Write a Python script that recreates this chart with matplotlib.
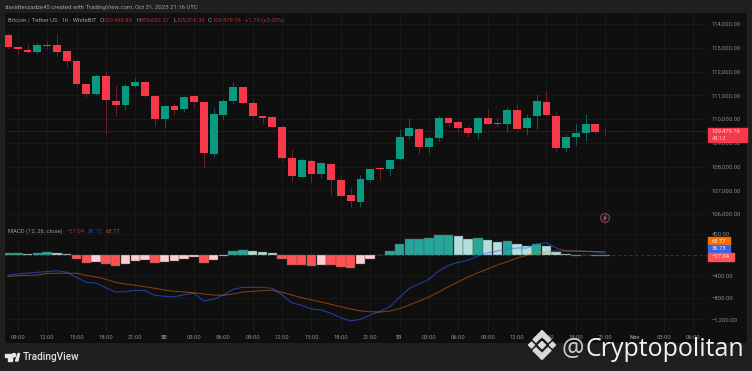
import matplotlib
matplotlib.use("Agg")
import matplotlib.pyplot as plt
from matplotlib.patches import Circle, Polygon, Rectangle

plt.rcParams["font.family"] = ["Roboto", "DejaVu Sans"]

# hourly candles, Oct 29 08:00 to Oct 31 21:00
opens = [113524, 113031, 112918, 112808, 113115, 113103, 112850, 112442, 111486, 111040,
         111798, 110770, 110602, 111377, 111570, 110981, 109987, 110535, 110421, 110956,
         110728, 108539, 110181, 110758, 111335, 110674, 110139, 110097, 109676, 108358,
         107571, 108244, 107697, 108118, 107432, 106800, 106518, 107445, 107937, 107882,
         108303, 109272, 109592, 108809, 109200, 110029, 109861, 109608, 109423, 110029,
         109832, 109790, 110366, 109608, 110114, 110728, 110139, 108779, 109255, 109398,
         109777, 109500]
closes = [113031, 112934, 112821, 113103, 113086, 112833, 112442, 111486, 111065, 111823,
          110800, 110577, 111377, 111558, 110968, 110000, 110547, 110392, 110939, 110716,
          108556, 110210, 110758, 111335, 110661, 110139, 110042, 109676, 108345, 107588,
          108261, 107672, 108135, 107445, 106771, 106535, 107487, 107882, 107882, 108287,
          109242, 109608, 108809, 109200, 110055, 109844, 109608, 109411, 110042, 109802,
          109777, 110379, 109592, 110029, 110745, 110168, 108766, 109242, 109411, 109777,
          109440, 109480]
highs = [113600, 113061, 113158, 113212, 113296, 113579, 112875, 112471, 111503, 111882,
         111979, 111419, 111503, 111739, 111587, 111023, 110589, 110686, 110968, 110968,
         110745, 110450, 110829, 111558, 111347, 110800, 110181, 110126, 109735, 108724,
         108345, 108329, 108190, 108135, 107546, 107137, 107630, 107895, 107937, 108316,
         109566, 110029, 109651, 109284, 110168, 110042, 109916, 109747, 110072, 110421,
         110097, 110505, 110644, 110210, 111053, 111166, 110295, 109356, 109777, 110210,
         109790, 109602]
lows = [112947, 112737, 112766, 112724, 112934, 112665, 112202, 111377, 110926, 110998,
        109368, 110126, 110379, 111335, 110897, 109705, 109676, 110210, 110295, 110493,
        107924, 108388, 109958, 110644, 110644, 110097, 109790, 109663, 108244, 107377,
        107558, 107318, 107529, 106788, 106758, 106308, 106308, 107360, 107432, 107600,
        108287, 109145, 108514, 108581, 109074, 109651, 109453, 109230, 109171, 109790,
        109676, 109440, 109579, 109339, 109566, 110084, 108640, 108611, 108918, 109086,
        109423, 109316]

hist = [30, 30, 25, 35, 50, 35, 10, -75, -143, -125, -175, -200, -162, -106, -94, -150,
        -131, -118, -69, -31, -143, -94, -12, 75, 100, 75, 62, 30, -75, -181, -187, -212,
        -181, -187, -218, -237, -162, -75, -5, 81, 200, 293, 293, 312, 368, 374, 350, 305,
        312, 281, 249, 256, 206, 168, 206, 175, 56, 20, -15, -3, -15, -27.04]
hist_strong = [1, 1, 0, 1, 1, 0, 0, 1, 1, 0, 1, 1, 0, 0, 0, 1, 0, 0, 0, 0, 1, 0, 0, 1, 1, 0, 0, 0,
               1, 1, 1, 1, 0, 1, 1, 1, 0, 0, 1, 1, 1, 1, 1, 1, 1, 1, 0, 0, 1, 0, 0, 1, 0, 0, 1, 0,
               0, 0, 1, 0, 1, 1]
macd = [-374, -355, -337, -324, -309, -294, -324, -417, -511, -524, -611, -692, -686, -660,
        -668, -754, -772, -780, -742, -716, -860, -828, -748, -641, -604, -604, -604, -623,
        -748, -892, -941, -1010, -1028, -1090, -1172, -1234, -1202, -1122, -1053, -967, -791,
        -623, -542, -454, -299, -193, -137, -99, -19, 43, 75, 112, 131, 131, 206, 230, 131,
        80, 75, 69, 56, 36.73]
signal = [-398, -385, -380, -374, -345, -342, -342, -342, -380, -411, -454, -511, -542, -567,
          -593, -623, -655, -679, -692, -705, -729, -748, -754, -729, -692, -679, -668, -660,
          -698, -748, -798, -842, -879, -922, -967, -1010, -1047, -1060, -1066, -1047, -1004,
          -935, -860, -785, -692, -593, -499, -411, -331, -262, -187, -125, -56, -6, 37, 56,
          75, 75, 75, 69, 65, 63.77]

price_ticks = [106000, 107000, 108000, 109000, 110000, 111000, 112000, 113000, 114000]
macd_ticks = [400, -400, -800, -1200]
macd_tick_labels = ["400.00", "\u2212400.00", "\u2212800.00", "\u22121,200.00"]
time_pos = [1, 4, 7, 10, 13, 16, 19, 22, 25, 28, 31, 34, 37, 40, 43, 46, 49, 52, 55, 58, 61, 64, 67, 70]
time_labels = ["09:00", "12:00", "15:00", "18:00", "21:00", "30", "03:00", "06:00", "09:00", "12:00",
               "15:00", "18:00", "21:00", "31", "03:00", "06:00", "09:00", "12:00", "15:00", "18:00",
               "21:00", "Nov", "03:00", "06:00"]

W, H = 752, 371
BG = "#0f0f0f"
FRAME = "#1f1f1f"
GRID = "#191919"
TXT = "#8c8c8c"
RED = "#f5394b"
GREEN = "#089981"
FS = 4.25

fig = plt.figure(figsize=(W / 100, H / 100), dpi=100, facecolor=FRAME)


def pane(left, top, right, bottom):
    return fig.add_axes([left / W, 1 - bottom / H, (right - left) / W, (bottom - top) / H], facecolor=BG)


# dark panel behind everything, down to the footer
back = pane(5, 13, 747, 343)
back.set_xticks([])
back.set_yticks([])
for s in back.spines.values():
    s.set_visible(False)

ax = pane(5, 13, 707, 224)
ax2 = pane(5, 224, 707, 331)
for a in (ax, ax2):
    a.set_xlim(-0.306, 71.4)
    a.set_xticks(time_pos)
    a.grid(True, color=GRID, linewidth=0.7)
    a.set_axisbelow(True)
    a.yaxis.tick_right()
    a.tick_params(length=0, colors=TXT, labelsize=FS)
    a.tick_params(axis="y", pad=3.6)
    for s in a.spines.values():
        s.set_visible(False)
ax.set_xticklabels([])
ax.spines["bottom"].set_visible(True)
ax.spines["bottom"].set_color("#222222")
ax.spines["bottom"].set_linewidth(0.8)

# candles
ax.set_ylim(105580, 114463)
ax.set_yticks(price_ticks)
ax.set_yticklabels([f"{p:,.2f}" for p in price_ticks])
xs = list(range(len(opens)))
up = [c >= o for o, c in zip(opens, closes)]
ax.vlines(xs, lows, highs, colors=["#0d5a4e" if u else "#6b2029" for u in up], linewidth=0.75, zorder=2)
ax.bar(xs, [abs(c - o) for o, c in zip(opens, closes)], bottom=[min(o, c) for o, c in zip(opens, closes)],
       width=0.8, color=[GREEN if u else RED for u in up], zorder=3)
ax.axhline(closes[-1], color="#571d25", linewidth=0.9, linestyle=(0, (1, 1)), zorder=1)

# MACD pane
ax2.set_ylim(-1421, 580)
ax2.set_yticks(macd_ticks)
ax2.set_yticklabels(macd_tick_labels)
ax2.set_xticklabels(time_labels)
ax2.tick_params(axis="x", pad=2.6)
for lab, txt in zip(ax2.get_xticklabels(), time_labels):
    if txt in ("30", "31", "Nov"):
        lab.set_fontweight("bold")
ax2.axhline(0, color="#363636", linewidth=0.7, linestyle=(0, (3, 3)), zorder=1)
hist_colors = []
for v, s in zip(hist, hist_strong):
    if v >= 0:
        hist_colors.append("#26a69a" if s else "#b2dfdb")
    else:
        hist_colors.append("#ff5252" if s else "#ffcdd2")
ax2.bar(xs, hist, width=0.97, color=hist_colors, edgecolor="#5a5a5a", linewidth=0.3, zorder=2)
ax2.plot(xs, macd, color="#2962ff", linewidth=0.8, alpha=0.58, zorder=3)
ax2.plot(xs, signal, color="#ff6d00", linewidth=0.8, alpha=0.48, zorder=3)

# overlay in pixel coordinates for header text, tags and logos
ov = fig.add_axes([0, 0, 1, 1], facecolor="none")
ov.set_xlim(0, W)
ov.set_ylim(H, 0)
ov.axis("off")


def label(x, y, s, color=TXT, size=FS, **kw):
    ov.text(x, y, s, color=color, fontsize=size, va="center", **kw)


label(5, 7, "davidtevzadze45 created with TradingView.com, Oct 31, 2025 21:16 UTC", color="#a0a0a0", size=4.3)
label(8.3, 20, "Bitcoin / Tether US \u00b7 1h \u00b7 WhiteBIT", color="#9a9a9a")
for x, s in [(99.3, "O"), (136.5, "H"), (173, "L"), (208, "C")]:
    label(x, 20, s, color="#9a9a9a")
for x, s in [(104, "109,499.89"), (141, "109,602.37"), (177, "109,316.36"), (213, "109,479.76"), (245, "+1.75 (+0.00%)")]:
    label(x, 20, s, color="#b52a38")

label(8.3, 231.5, "MACD (12, 26, close)", color="#9a9a9a")
label(67, 231.5, "\u221227.04", color="#b52a38")
label(88, 231.5, "36.73", color="#27459c")
label(105.5, 231.5, "63.77", color="#a8551a")

# price and MACD tags on the axis
ov.add_patch(Rectangle((708, 128), 39, 14.3, color=RED, zorder=5))
label(712, 131.6, "109,479.76", color="#ffd9dc", zorder=6)
label(712, 138.3, "43:12", color="#ffc4c9", zorder=6)
for top, bottom, right, col, s in [(237.3, 245, 730, "#ff6d00", "63.77"), (245, 252.8, 730, "#2f66f5", "36.73"),
                                   (253, 261, 733.5, "#ff5252", "\u221227.04")]:
    ov.add_patch(Rectangle((708, top), right - 708, bottom - top, color=col, zorder=5))
    label(712, (top + bottom) / 2, s, color="#ffe3d6", zorder=6)

# lightning marker
ov.add_patch(Circle((605, 218), 4.4, fill=False, edgecolor="#84495a", linewidth=0.8))
ov.add_patch(Polygon([(605.8, 215.5), (603.6, 218.5), (605, 218.5), (604.2, 220.5), (606.4, 217.5), (605, 217.5)],
                     color="#84495a"))

# TradingView footer logo
ov.add_patch(Polygon([(5, 353.5), (11.7, 353.5), (11.7, 361), (8.2, 361), (8.2, 356.8), (5, 356.8)], color="#e6e6e6"))
ov.add_patch(Circle((14, 355.2), 1.7, color="#e6e6e6"))
ov.add_patch(Polygon([(15.5, 361), (18.2, 353.5), (19.6, 353.5), (19.6, 353.5), (17.8, 361)], color="#e6e6e6"))
label(23, 357.3, "TradingView", color="#e0e0e0", size=7.2, fontweight="medium")

# Cryptopolitan watermark
CX, CY = 542, 345
LOGO = "#d9d9d9"
for dx, dy in [(0, 0), (-10.5, 0), (10.5, 0)]:
    r = 3.6 if dx == 0 else 3
    ov.add_patch(Polygon([(CX + dx, CY + dy - r), (CX + dx + r, CY + dy), (CX + dx, CY + dy + r), (CX + dx - r, CY + dy)],
                         color=LOGO, zorder=7))
for sign in (-1, 1):
    ov.add_patch(Polygon([(CX, CY + sign * 14.5), (CX + 9, CY + sign * 5.5), (CX + 6, CY + sign * 2.8), (CX, CY + sign * 8.6),
                          (CX - 6, CY + sign * 2.8), (CX - 9, CY + sign * 5.5)], color=LOGO, zorder=7))
ov.text(561.5, 356, "@", color="#d0d0d0", fontsize=18, family="Open Sans", va="baseline", zorder=7)
ov.text(585.5, 356, "Cryptopolitan", color="#f2f2f2", fontsize=18, family="Open Sans", va="baseline", zorder=7)

fig.savefig("out.png", dpi=100, facecolor=FRAME)
